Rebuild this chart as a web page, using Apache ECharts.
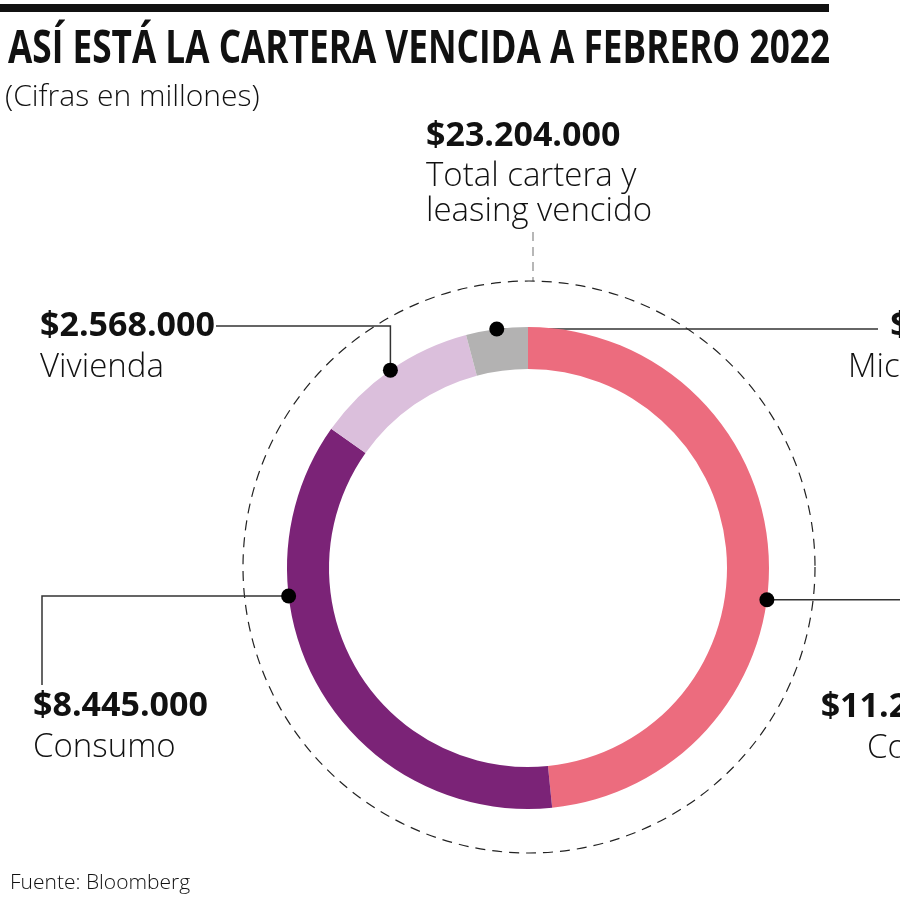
<!DOCTYPE html>
<html>
<head>
<meta charset="utf-8">
<script src="https://cdn.jsdelivr.net/npm/echarts@6/dist/echarts.min.js"></script>
<style>
html, body { margin: 0; padding: 0; background: #fff; }
#chart { width: 900px; height: 900px; }
</style>
</head>
<body>
<div id="chart"></div>
<script>
// data
var categories = ['Comercial', 'Consumo', 'Vivienda', 'Microcrédito'];
var values = [11231000, 8445000, 2568000, 960000];
var totalValue = 23204000;
var totalLabel = ['Total cartera y', 'leasing vencido'];
var colors = ['#ec6c7e', '#7b2377', '#dbbfdc', '#b3b2b2'];

// ring geometry
var cx = 528, cy = 568, rIn = 199, rOut = 241;
// where on each slice the callout dot sits (0 = slice start, 1 = slice end)
var dotAt = [0.56, 0.68, 0.5, 0.5];

function fmt(v) {
    return '$' + v.toString().replace(/\B(?=(\d{3})+(?!\d))/g, '.');
}

var sum = values.reduce(function (a, b) { return a + b; }, 0);
var dots = [];
var acc = 0;
values.forEach(function (v, i) {
    var a = (acc + v * dotAt[i]) / sum * Math.PI * 2;
    dots.push([cx + rOut * Math.sin(a), cy - rOut * Math.cos(a)]);
    acc += v;
});

// callout placement per slice
var callouts = [
    { x: 1015, y: 687, align: 'right', line: function (d) { return [d, [1000, d[1]], [1000, d[1]]]; } },
    { x: 33, y: 686, align: 'left', line: function (d) { return [d, [42, d[1]], [42, 685]]; } },
    { x: 40, y: 306, align: 'left', line: function (d) { return [d, [d[0], 326], [216, 326]]; } },
    { x: 1036, y: 306, align: 'right', line: function (d) { return [d, [878, d[1]], [878, d[1]]]; } }
];

var chart = echarts.init(document.getElementById('chart'));

var cvs = document.createElement('canvas').getContext('2d');
var titleText = 'ASÍ ESTÁ LA CARTERA VENCIDA A FEBRERO 2022';
var titleFont = 'bold 46px "Open Sans"';
cvs.font = titleFont;
var titleScale = 822 / cvs.measureText(titleText).width;

var graphics = [
    { type: 'rect', shape: { x: 0, y: 4, width: 829, height: 8 }, style: { fill: '#111' } },
    { type: 'text', x: 8, y: 50, scaleX: titleScale,
      style: { text: titleText, font: titleFont, fill: '#111', verticalAlign: 'middle' } },
    { type: 'text', x: 5, y: 97,
      style: { text: '(Cifras en millones)', font: '300 30px "Open Sans"', fill: '#111', verticalAlign: 'middle' } },
    { type: 'text', x: 426, y: 136,
      style: { text: fmt(totalValue), font: 'bold 34px "Open Sans"', fill: '#111', verticalAlign: 'middle' } },
    { type: 'text', x: 426, y: 177,
      style: { text: totalLabel[0], font: '300 33px "Open Sans"', fill: '#111', verticalAlign: 'middle' } },
    { type: 'text', x: 426, y: 212,
      style: { text: totalLabel[1], font: '300 33px "Open Sans"', fill: '#111', verticalAlign: 'middle' } },
    { type: 'line', shape: { x1: 533, y1: 232, x2: 533, y2: 281 },
      style: { stroke: '#888', lineWidth: 1.2, lineDash: [9, 6] } },
    { type: 'circle', shape: { cx: cx + 1, cy: cy - 1, r: 286 },
      style: { fill: 'none', stroke: '#222', lineWidth: 1.2, lineDash: [10, 7] } },
    { type: 'text', x: 10, y: 883,
      style: { text: 'Fuente: Bloomberg', font: '300 21px "Open Sans"', fill: '#111', verticalAlign: 'middle' } }
];
dots.forEach(function (d) {
    graphics.push({ type: 'circle', z: 100, shape: { cx: d[0], cy: d[1], r: 7.5 }, style: { fill: '#000' } });
});

var option = {
    animation: false,
    graphic: graphics,
    series: [
        {
            type: 'pie',
            center: [cx, cy],
            radius: [rIn, rOut],
            startAngle: 90,
            clockwise: true,
            silent: true,
            avoidLabelOverlap: false,
            itemStyle: { borderWidth: 0 },
            emphasis: { disabled: true },
            data: categories.map(function (c, i) {
                return { name: c, value: values[i], itemStyle: { color: colors[i] } };
            }),
            label: {
                show: true,
                position: 'outside',
                formatter: function (p) {
                    return '{v|' + fmt(p.value) + '}\n{n|' + p.name + '}';
                },
                rich: {
                    v: { fontFamily: 'Open Sans', fontWeight: 'bold', fontSize: 34, color: '#111', lineHeight: 41 },
                    n: { fontFamily: 'Open Sans', fontWeight: 300, fontSize: 33, color: '#111', lineHeight: 41 }
                }
            },
            labelLine: { show: true, lineStyle: { color: '#333', width: 1.5 } },
            labelLayout: function (p) {
                var c = callouts[p.dataIndex];
                return {
                    x: c.x, y: c.y, align: c.align, verticalAlign: 'top',
                    labelLinePoints: c.line(dots[p.dataIndex])
                };
            }
        }
    ]
};
chart.setOption(option);
</script>
</body>
</html>
